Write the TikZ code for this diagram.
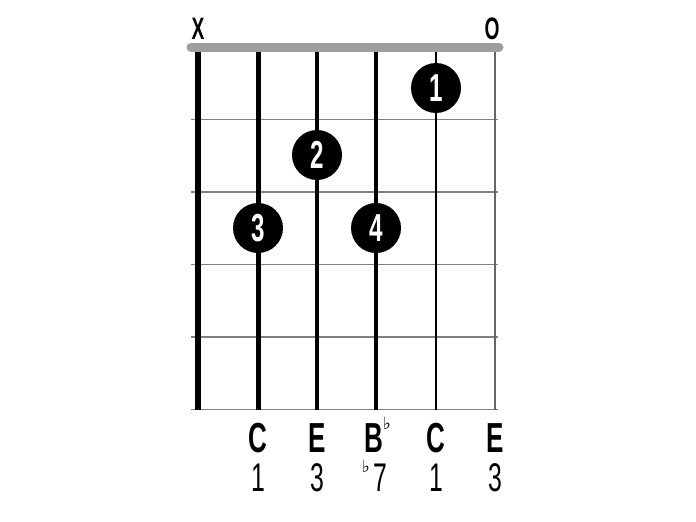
\documentclass[tikz,border=0pt]{standalone}
\usepackage{fontspec}
\setmainfont{Liberation Sans}
\newfontfamily\condb[FakeStretch=0.62]{Liberation Sans}
\newfontfamily\flatfont{DejaVu Sans}
\begin{document}
\begin{tikzpicture}[x=1pt,y=-1pt,
  fret/.style={draw=black!50,line width=1.8pt},
  str/.style={draw=black},
  dot/.style={circle,fill=black,minimum size=50pt,inner sep=0pt,text=white,font=\condb\bfseries\fontsize{39}{39}\selectfont},
  lbl/.style={inner sep=0pt,font=\condb\bfseries\fontsize{42}{42}\selectfont},
  num/.style={inner sep=0pt,font=\condb\fontsize{40}{40}\selectfont},
  top/.style={inner sep=0pt,font=\condb\bfseries\fontsize{31}{31}\selectfont},
  flt/.style={inner sep=0pt,font=\flatfont\fontsize{17}{17}\selectfont}]
\useasboundingbox (0,0) rectangle (696,522);
\fill[white] (0,0) rectangle (696,522);
% frets
\foreach \y [count=\i] in {119.5,192,264.5,337,409.5}
  \draw[fret] (191,\y) coordinate (fl\i) -- (498,\y) coordinate (fr\i);
% strings
\foreach \x/\w/\c [count=\i] in {198/6/black,258/5/black,317/4.2/black,376/3.5/black,436/2.7/black,495/1.7/black!60}
  \draw[str,line width=\w pt,draw=\c] (\x,47) coordinate (s\i) -- (\x,410) coordinate (e\i);
% nut
\draw[draw=black!38,line width=9pt,line cap=round] (191,47) coordinate (nl) -- (499,47) coordinate (nr);
% open/muted
\node[top] (mx) at (198,29) {X};
\node[top] (op) at (492,29) {O};
% dots
\node[dot] (d1) at (436,88) {1};
\node[dot] (d2) at (317,155) {2};
\node[dot] (d3) at (258,228) {3};
\node[dot] (d4) at (376,228) {4};
% note names
\node[lbl] (n2) at (258,438) {C};
\node[lbl] (n3) at (317,438) {E};
\node[lbl] (n4) at (374,438) {B};
\node[flt] (f4) at (387,423) {♭};
\node[lbl] (n5) at (436,438) {C};
\node[lbl] (n6) at (495,438) {E};
% intervals
\node[num] (i2) at (258,478) {1};
\node[num] (i3) at (317,478) {3};
\node[num] (i4) at (380,478) {7};
\node[flt] (f7) at (366,466) {♭};
\node[num] (i5) at (436,478) {1};
\node[num] (i6) at (495,478) {3};
\end{tikzpicture}
\end{document}
